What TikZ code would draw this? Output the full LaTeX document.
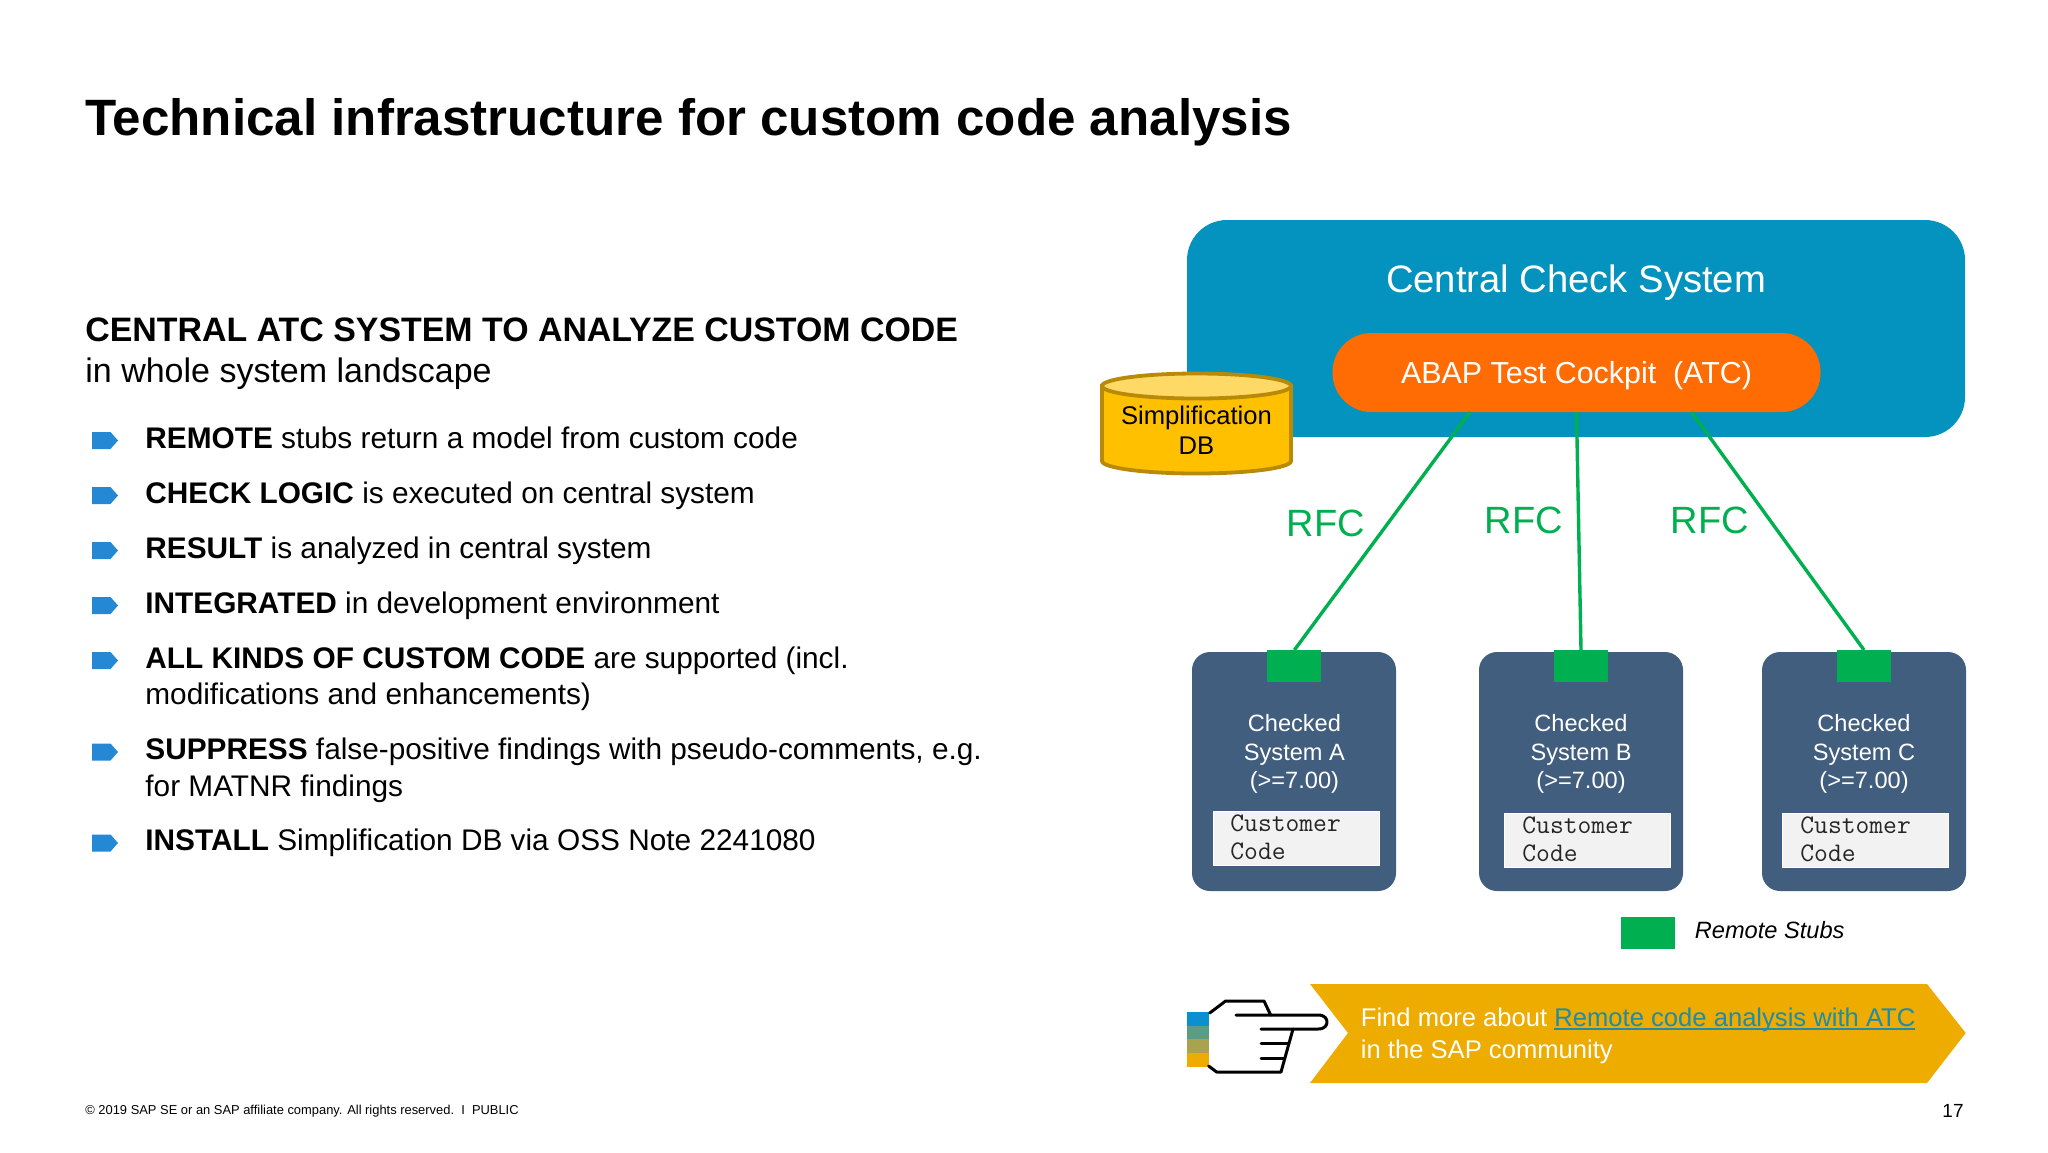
\documentclass[tikz,border=0pt]{standalone}
\usepackage{fontspec}
\setmainfont{Liberation Sans}
\definecolor{cblue}{HTML}{0393BE}
\definecolor{corange}{HTML}{FF6C03}
\definecolor{cgreen}{HTML}{00B050}
\definecolor{cslate}{HTML}{415E7E}
\definecolor{cgold}{HTML}{EEAB00}
\definecolor{cyl}{HTML}{FFC000}
\definecolor{cyltop}{HTML}{FFD966}
\definecolor{cyledge}{HTML}{B98A08}
\definecolor{bullet}{HTML}{2488D4}
\definecolor{clink}{HTML}{1F8CA8}
\definecolor{codebg}{HTML}{F2F2F2}
\definecolor{band1}{HTML}{0A8FD0}
\definecolor{band2}{HTML}{5A9C84}
\definecolor{band3}{HTML}{A9A24F}
\newcommand{\px}[1]{#1*0.5pt}
\newcommand{\fs}[2]{\fontsize{#1}{#2}\selectfont}
\newcommand{\ulink}[1]{\sbox0{#1}\usebox0\hspace{-\wd0}\rule[-1.9pt]{\wd0}{0.8pt}}
\tikzset{
  box/.style n args={2}{rectangle,inner sep=0pt,outer sep=0pt,minimum width=\px{#1},minimum height=\px{#2}},
  checked/.style={box={204}{239},fill=cslate,rounded corners=9pt},
  stub/.style={box={54}{32},fill=cgreen},
  code/.style={box={166}{54},fill=codebg,draw=white,line width=0.5pt},
  codetext/.style={inner sep=0pt,anchor=base west,font=\ttfamily\fs{13.4}{14},text=black!85},
  systext/.style={inner sep=0pt,align=center,text=white,font=\fs{11.8}{14.35}},
  rfc/.style={inner sep=0pt,text=cgreen,font=\fs{19}{22}},
  link/.style={cgreen,line width=1.7pt},
  line/.style={inner sep=0pt,anchor=base west,font=\fs{14.9}{17}},
  pt/.style={fill=bullet},
  hand/.style={line width=1.5pt,line join=round,line cap=round,draw=black}
}
\newcommand{\bul}[1]{\fill[pt] (92,#1-16) -- (110.5,#1-16) -- (118,#1-7.5) -- (110.5,#1+1) -- (92,#1+1) -- cycle;}
\begin{document}
\begin{tikzpicture}[x=0.5pt,y=-0.5pt]
\useasboundingbox[fill=white] (0,0) rectangle (2048,1152);

% title and left text
\node[inner sep=0pt,anchor=base west,font=\bfseries\fs{25.56}{30}] (title) at (85,135) {Technical infrastructure for custom code analysis};
\node[line,font=\bfseries\fs{16.95}{20}] (head) at (85,341) {CENTRAL ATC SYSTEM TO ANALYZE CUSTOM CODE};
\node[line,font=\fs{17}{20}] (sub) at (85,382) {in whole system landscape};

\bul{448}\bul{503}\bul{558}\bul{613}\bul{668}\bul{759.5}\bul{850.5}
\node[line] (l1) at (145,448) {\textbf{REMOTE} stubs return a model from custom code};
\node[line] (l2) at (145,503) {\textbf{CHECK LOGIC} is executed on central system};
\node[line] (l3) at (145,558) {\textbf{RESULT} is analyzed in central system};
\node[line] (l4) at (145,613) {\textbf{INTEGRATED} in development environment};
\node[line] (l5) at (145,668) {\textbf{ALL KINDS OF CUSTOM CODE} are supported (incl.};
\node[line] (l5b) at (145,704.6) {modifications and enhancements)};
\node[line] (l6) at (145,759.5) {\textbf{SUPPRESS} false-positive findings with pseudo-comments, e.g.};
\node[line] (l6b) at (145,796) {for MATNR findings};
\node[line] (l7) at (145,850.5) {\textbf{INSTALL} Simplification DB via OSS Note 2241080};

% footer
\node[inner sep=0pt,anchor=base west,font=\fs{6.45}{7}] (foot) at (85,1114) {© 2019 SAP SE or an SAP affiliate company. All rights reserved.\ \ I\ \ PUBLIC};
\node[inner sep=0pt,anchor=base east,font=\fs{9.5}{11}] (page) at (1964,1117) {17};

% central system
\node[box={778}{217},fill=cblue,rounded corners=20pt] (central) at (1576,328.5) {};
\node[inner sep=0pt,text=white,font=\fs{19.1}{22}] (ccs) at (1576,282.5) {Central Check System};
\node[box={488}{79},fill=corange,rounded corners=19.5pt] (atc) at (1576.5,372.5) {};
\node[inner sep=0pt,text=white,font=\fs{15.2}{18}] (atct) at (1576.5,376) {ABAP Test Cockpit\ \ (ATC)};
\coordinate (atcA) at (1470,412);
\coordinate (atcC) at (1691.5,412);

% simplification db
\draw[fill=cyl,draw=cyledge,line width=1.9pt] (1102,386) -- (1102,461) arc[x radius=94.5,y radius=12.5,start angle=180,end angle=0] -- (1291,386) -- cycle;
\draw[fill=cyltop,draw=cyledge,line width=1.9pt] (1196.5,386) ellipse[x radius=94.5,y radius=12.5];
\node[inner sep=0pt,align=center,font=\fs{12.8}{15}] (db) at (1196.5,430) {Simplification\\DB};

% checked systems
\node[checked] (sysA) at (1294,771.5) {};
\node[checked] (sysB) at (1581,771.5) {};
\node[checked] (sysC) at (1864,771.5) {};
\node[stub] (stubA) at (1294.4,666) {};
\node[stub] (stubB) at (1581,666) {};
\node[stub] (stubC) at (1864,666) {};
\node[systext] (tA) at (1294.4,754) {Checked\\System A\\(>=7.00)};
\node[systext] (tB) at (1581,754) {Checked\\System B\\(>=7.00)};
\node[systext] (tC) at (1864,754) {Checked\\System C\\(>=7.00)};
\node[code] (cA) at (1296,838) {};
\node[code] (cB) at (1587.7,840) {};
\node[code] (cC) at (1865.6,840) {};
\node[codetext] (cA1) at (1230,831) {Customer};
\node[codetext] (cA2) at (1230,859) {Code};
\node[codetext] (cB1) at (1522,833) {Customer};
\node[codetext] (cB2) at (1522,861) {Code};
\node[codetext] (cC1) at (1800,833) {Customer};
\node[codetext] (cC2) at (1800,861) {Code};

% connectors
\draw[link] (atcA) -- (stubA.north);
\draw[link] (atc.south) -- (stubB.north);
\draw[link] (atcC) -- (stubC.north);
\node[rfc] (r1) at (1326,523) {RFC};
\node[rfc] (r2) at (1524,520) {RFC};
\node[rfc] (r3) at (1710,520) {RFC};

% legend
\node[stub] (leg) at (1648,932.5) {};
\node[inner sep=0pt,anchor=west,font=\itshape\fs{11.8}{14}] (legt) at (1694.5,930) {Remote Stubs};

% banner
\fill[cgold] (1310,984) -- (1927,984) -- (1965.7,1033) -- (1927,1083) -- (1310,1083) -- (1348,1033) -- cycle;
\node[inner sep=0pt,anchor=base west,text=white,font=\fs{12.8}{15}] (find) at (1360.5,1026) {Find more about \textcolor{clink}{\ulink{Remote code analysis with ATC}}};
\node[inner sep=0pt,anchor=base west,text=white,font=\fs{12.8}{15}] (find2) at (1360.5,1058) {in the SAP community};

% hand
\fill[band1] (1187,1012) rectangle (1208.6,1026);
\fill[band2] (1187,1026) rectangle (1208.6,1039);
\fill[band3] (1187,1039) rectangle (1208.6,1053);
\fill[cgold] (1187,1053) rectangle (1208.6,1067);
\draw[hand] (1209.7,1013) -- (1225.6,1001) -- (1264,1001) -- (1270.6,1015);
\draw[hand] (1236,1015) -- (1318,1015) .. controls (1325,1015) and (1327,1019) .. (1327,1022) .. controls (1327,1025) and (1325,1029) .. (1318,1029) -- (1261,1029);
\draw[hand] (1293,1029) -- (1281,1072) -- (1216.6,1072) -- (1208.6,1066);
\draw[hand] (1261,1043) -- (1287.5,1043);
\draw[hand] (1261,1058) -- (1284,1058);
\end{tikzpicture}
\end{document}
